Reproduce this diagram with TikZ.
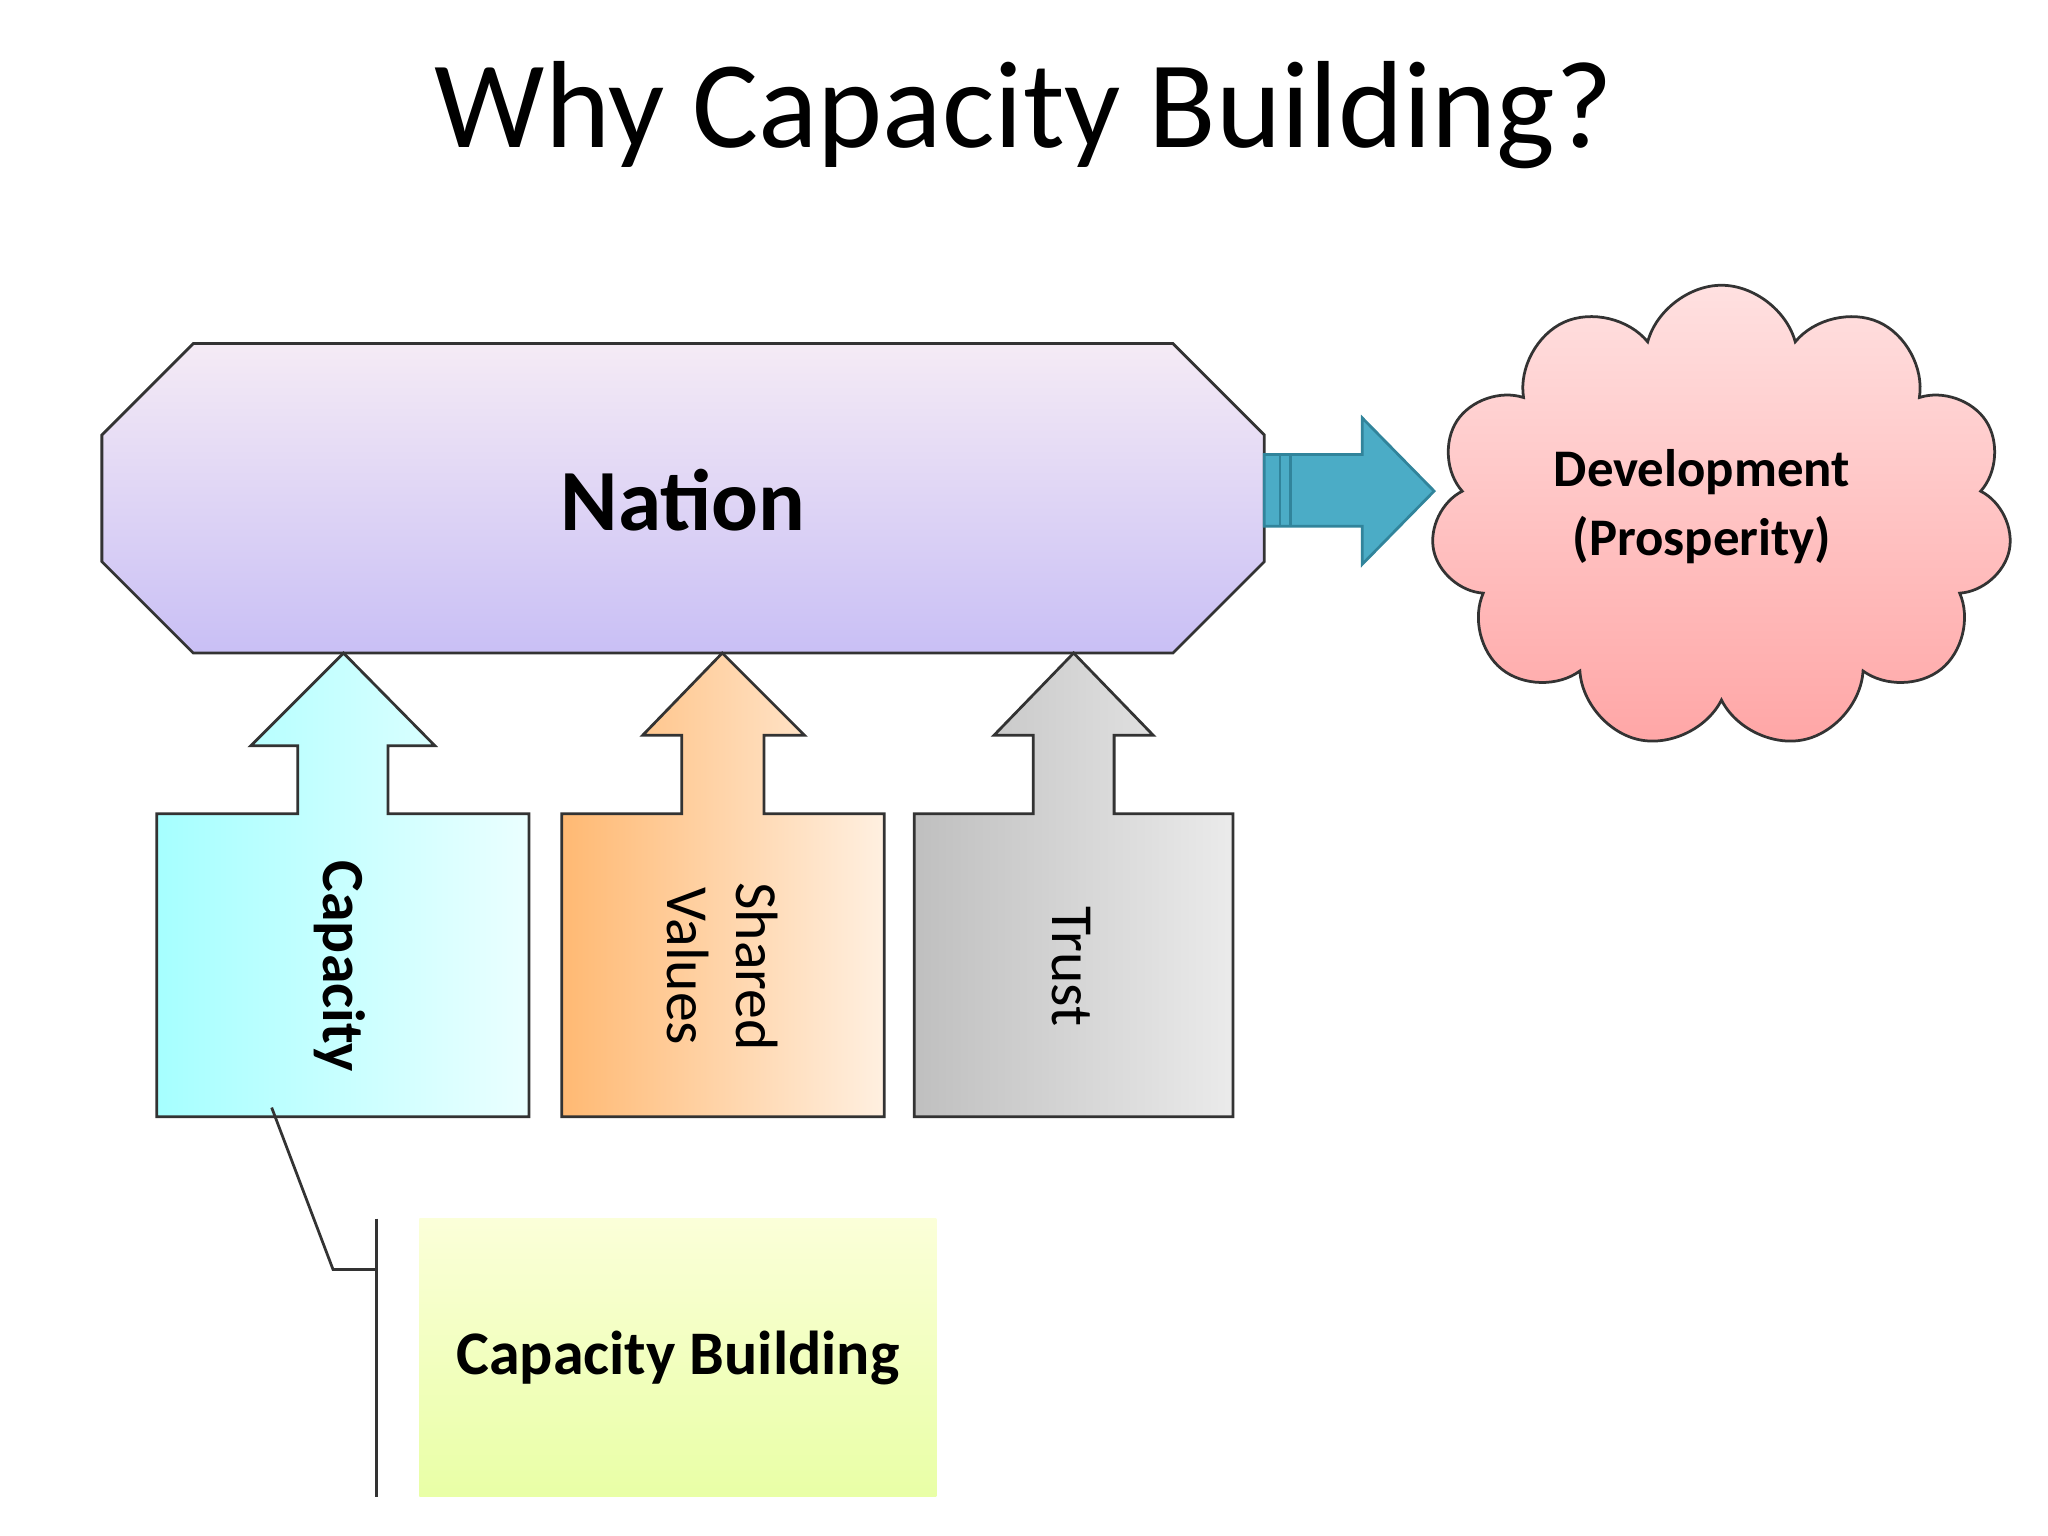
\documentclass[tikz,border=0pt]{standalone}
\usepackage{fontspec}
\setmainfont{Carlito}
\usetikzlibrary{shapes.symbols}
\definecolor{arrowteal}{HTML}{4BACC6}
\definecolor{arrowedge}{HTML}{31849B}
\begin{document}
\begin{tikzpicture}[x=0.01cm,y=-0.01cm,
  ol/.style={draw=black!80,line width=0.6pt},
  vlab/.style={rotate=-90,align=center}]
\useasboundingbox (0,0) rectangle (1568,1176);
\node (title) at (784,88) {\fontsize{27}{31}\selectfont Why Capacity Building?};
% Nation
\shade[ol,top color=violet!8,bottom color=violet!30!blue!25]
  (148,263) -- (898,263) -- (968,333) -- (968,430) -- (898,500) -- (148,500) -- (78,430) -- (78,333) -- cycle;
\node[font=\fontsize{19}{21}\selectfont\bfseries] (nation) at (523,383) {Nation};
% right arrow
\fill[arrowteal,draw=arrowedge,line width=0.6pt]
  (968,348) -- (1043,348) -- (1043,320) -- (1098,376) -- (1043,432) -- (1043,403) -- (968,403) -- cycle;
\draw[arrowedge,line width=0.6pt] (980,348) -- (980,403);
\draw[arrowedge,line width=0.6pt] (988,348) -- (988,403);
% cloud
\node[cloud,cloud puffs=11,aspect=1.25,draw=black!80,line width=0.6pt,
  shade,top color=red!12,bottom color=red!35,inner sep=0pt,
  minimum width=4.45cm,minimum height=3.55cm] (dev) at (1318,396) {};
\node[align=center,font=\fontsize{11.5}{15}\selectfont\bfseries] (devt) at (1303,388) {Development\\(Prosperity)};
% up arrows + boxes
\shade[ol,left color=cyan!35,right color=cyan!8]
  (120,855) -- (120,623) -- (228,623) -- (228,571) -- (192,571) -- (263,500) -- (333,571) -- (297,571) -- (297,623) -- (405,623) -- (405,855) -- cycle;
\node[vlab,font=\fontsize{13}{15}\selectfont\bfseries] (cap) at (260,740) {Capacity};
\shade[ol,left color=orange!55,right color=orange!12]
  (430,855) -- (430,623) -- (522,623) -- (522,563) -- (492,563) -- (553,500) -- (616,563) -- (585,563) -- (585,623) -- (677,623) -- (677,855) -- cycle;
\node[vlab,font=\fontsize{13}{15}\selectfont] (sv) at (553,740) {Shared\\Values};
\shade[ol,left color=black!25,right color=black!8]
  (700,855) -- (700,623) -- (791,623) -- (791,563) -- (761,563) -- (822,500) -- (883,563) -- (853,563) -- (853,623) -- (944,623) -- (944,855) -- cycle;
\node[vlab,font=\fontsize{13}{15}\selectfont] (tr) at (820,740) {Trust};
% capacity building
\shade[draw=none,top color=green!10!yellow!15,bottom color=green!25!yellow!35]
  (321,933) rectangle (717,1146);
\node[font=\fontsize{13.5}{15}\selectfont\bfseries] (cb) at (519,1040) {Capacity Building};
\coordinate (c1) at (208,848);
\coordinate (c2) at (255,972);
\coordinate (c3) at (288,972);
\draw[black!80,line width=0.6pt] (c1) -- (c2) -- (c3);
\draw[black!80,line width=0.6pt] (288,933) -- (288,1146);
\end{tikzpicture}
\end{document}
